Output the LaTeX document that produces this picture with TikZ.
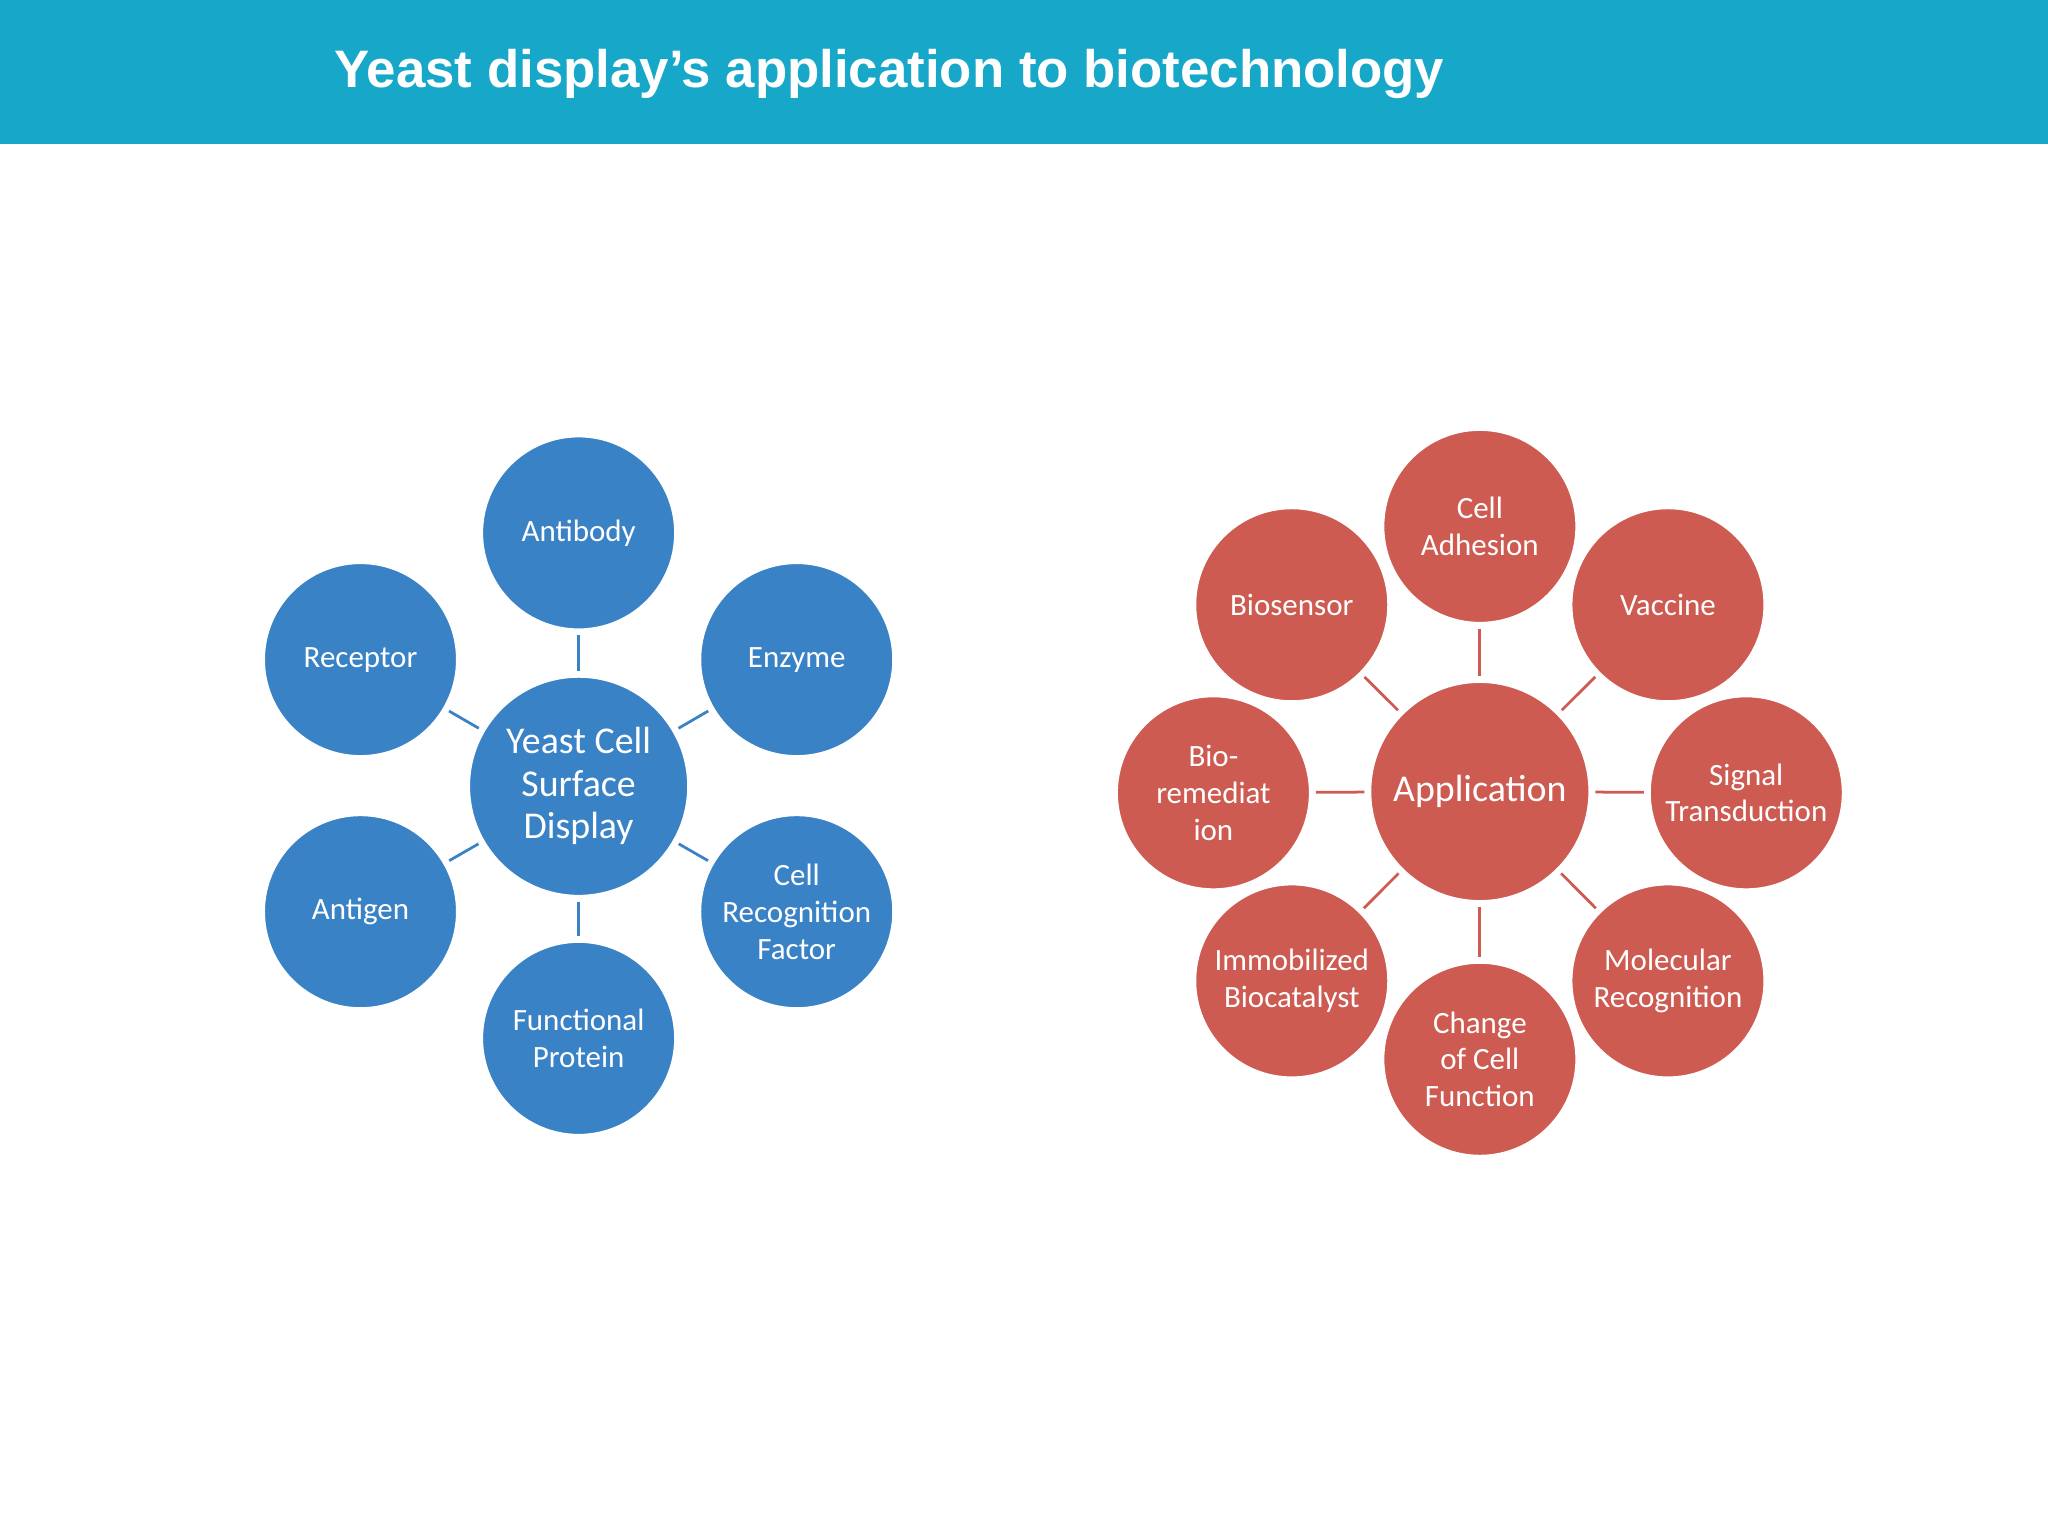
\documentclass[tikz,border=0pt]{standalone}
\usepackage{fontspec}
\setmainfont{Carlito}
\newfontfamily\titlefont{Liberation Sans}
\definecolor{hdr}{HTML}{17A7C8}
\definecolor{bl}{HTML}{3A82C6}
\definecolor{rd}{HTML}{CD5B52}
\begin{document}
\begin{tikzpicture}[x=0.02cm,y=-0.02cm,
  sat/.style={circle,fill=#1,draw=white,line width=1pt,minimum size=148*0.02cm,inner sep=0pt,align=center,text=white,font=\fontsize{13.5}{16}\selectfont},
  hub/.style={sat=#1,minimum size=168*0.02cm,font=\fontsize{16.5}{18.5}\selectfont},
  lk/.style={draw=#1,line width=1.2pt,shorten >=2pt,shorten <=2pt}]
\useasboundingbox (0,0) rectangle (1568,1176);
\fill[hdr] (0,0) rectangle (1568,110);
\node[anchor=west,text=white,font=\titlefont\bfseries\fontsize{23}{26}\selectfont] (title) at (250,57) {Yeast display’s application to biotechnology};
% blue
\node[hub=bl] (c) at (443,602) {Yeast Cell\\Surface\\Display};
\node[sat=bl] (b1) at (443,408) {Antibody};
\node[sat=bl] (b2) at (610,505) {Enzyme};
\node[sat=bl] (b3) at (610,698) {Cell\\Recognition\\Factor};
\node[sat=bl] (b4) at (443,795) {Functional\\Protein};
\node[sat=bl] (b5) at (276,698) {Antigen};
\node[sat=bl] (b6) at (276,505) {Receptor};
\foreach \i in {1,...,6} \draw[lk=bl] (c) -- (b\i);
% red
\node[hub=rd] (a) at (1133,606) {Application};
\node[sat=rd] (r1) at (1133,403) {Cell\\Adhesion};
\node[sat=rd] (r2) at (1277,463) {Vaccine};
\node[sat=rd] (r3) at (1337,607) {Signal\\Transduction};
\node[sat=rd] (r4) at (1277,751) {Molecular\\Recognition};
\node[sat=rd] (r5) at (1133,811) {Change\\of Cell\\Function};
\node[sat=rd] (r6) at (989,751) {Immobilized\\Biocatalyst};
\node[sat=rd] (r7) at (929,607) {Bio-\\remediat\\ion};
\node[sat=rd] (r8) at (989,463) {Biosensor};
\foreach \i in {1,...,8} \draw[lk=rd] (a) -- (r\i);
\end{tikzpicture}
\end{document}
